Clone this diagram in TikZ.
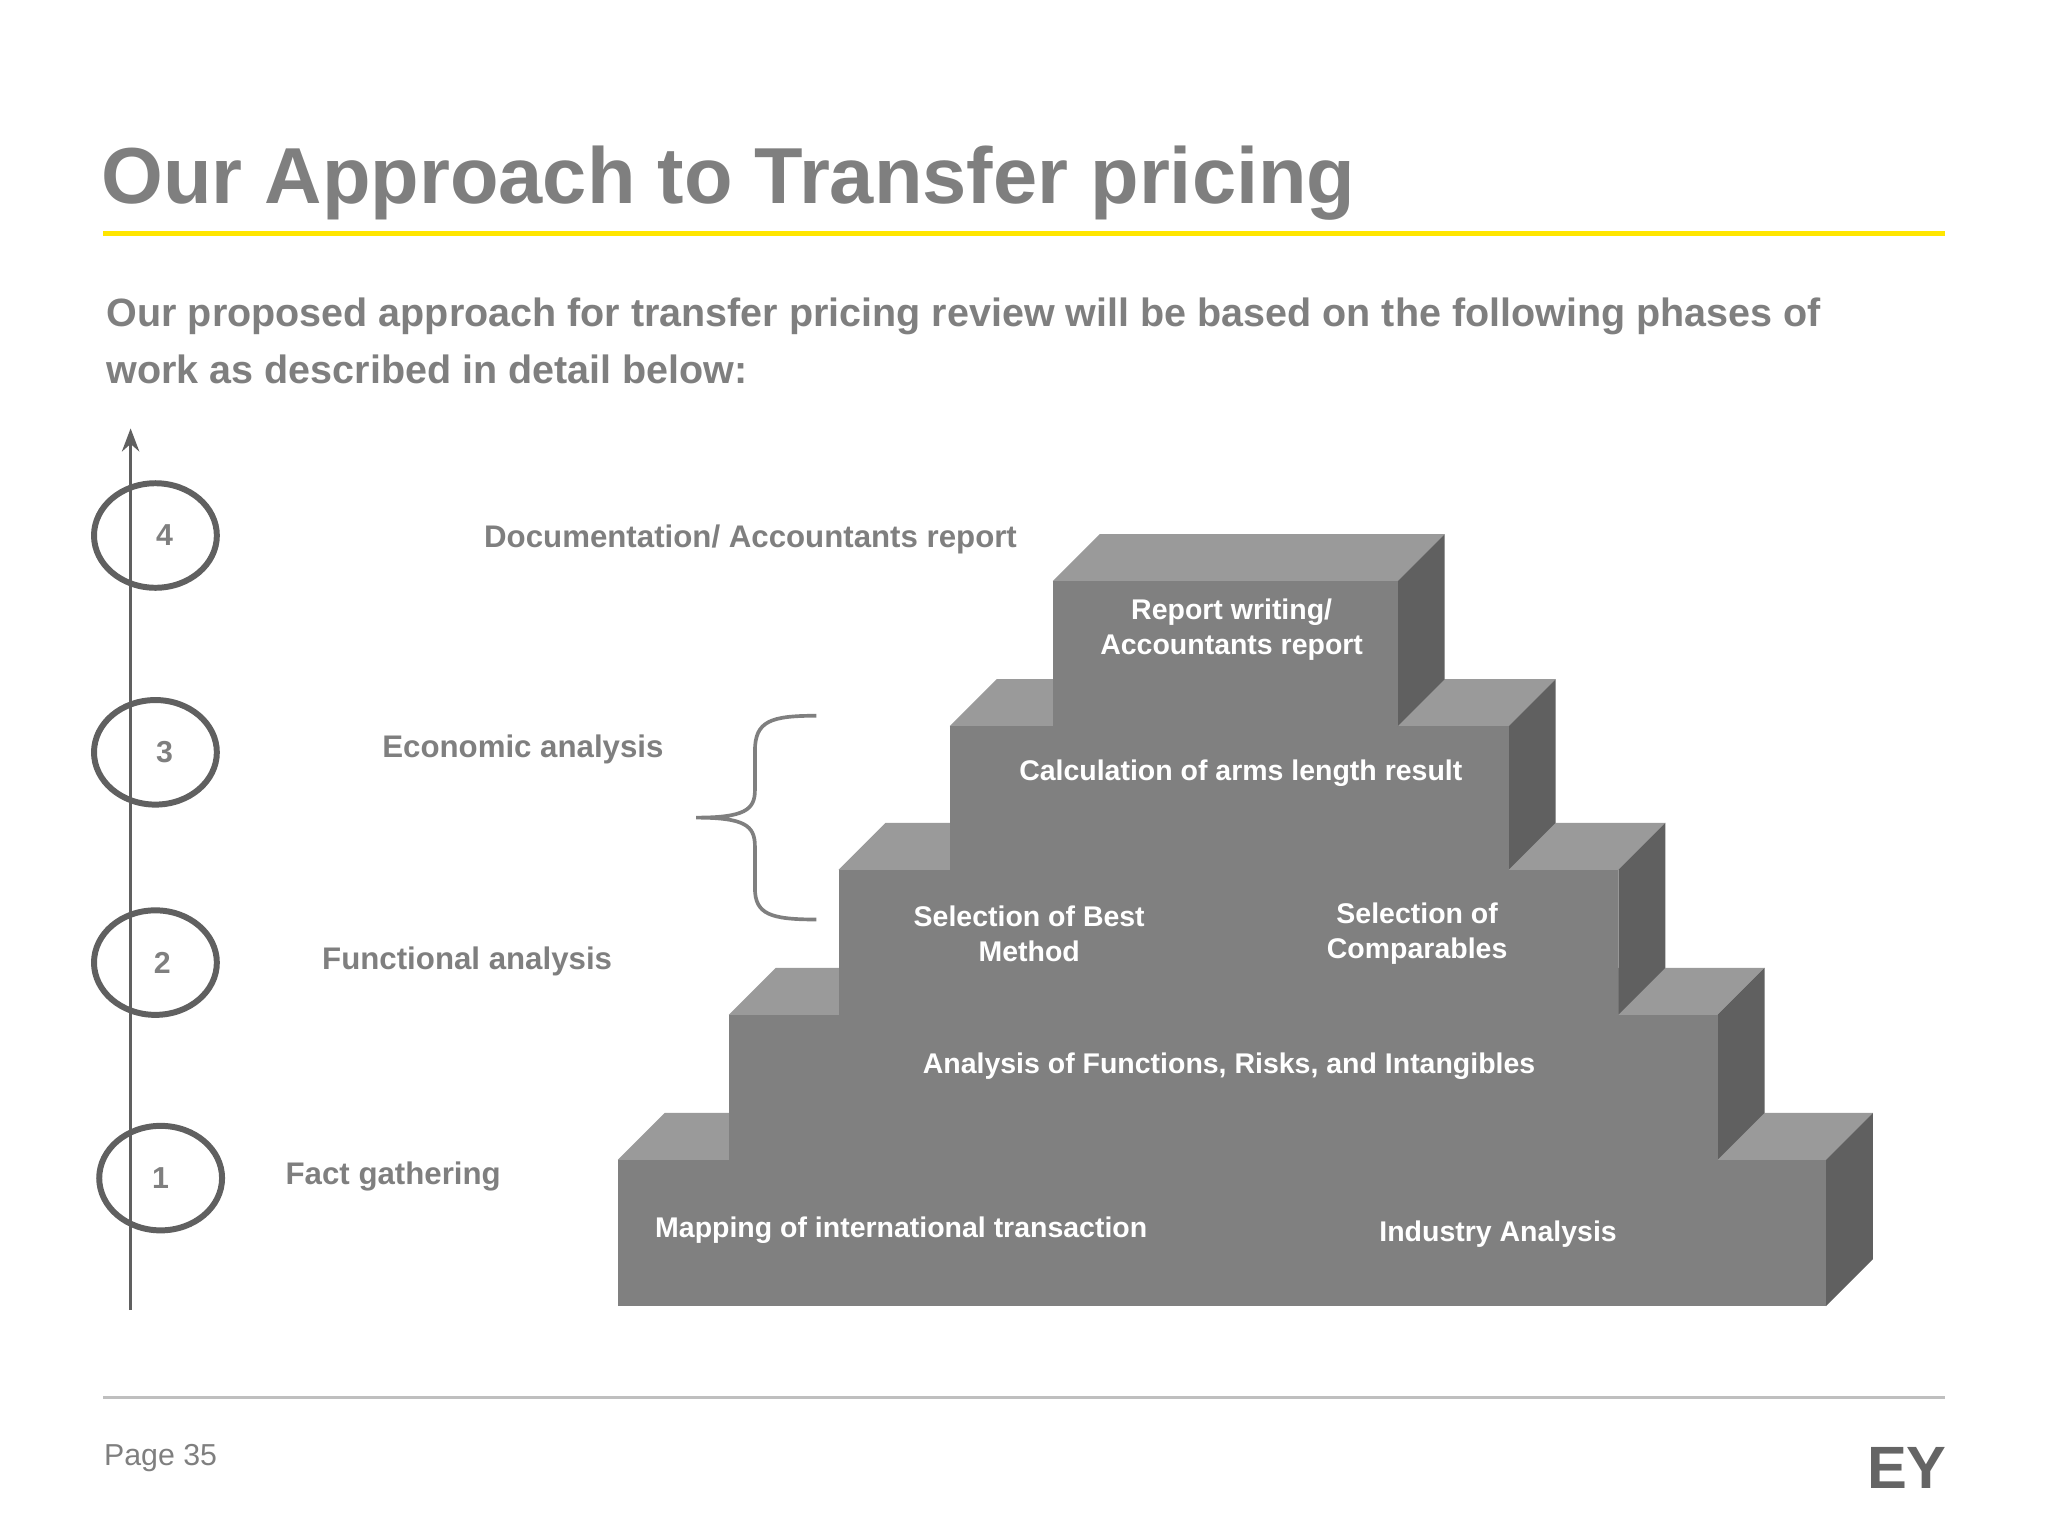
\documentclass[tikz,border=0pt]{standalone}
\usepackage{fontspec}
\setmainfont{Liberation Sans}
\definecolor{txt}{HTML}{7F7F7F}
\definecolor{fr}{HTML}{808080}
\definecolor{tp}{HTML}{9A9A9A}
\definecolor{sd}{HTML}{606060}
\definecolor{eyy}{HTML}{FFE600}
\tikzset{lab/.style={text=txt,font=\bfseries\fontsize{6.8}{8}\selectfont,anchor=west,inner sep=0pt},
 wt/.style={text=white,font=\bfseries\fontsize{6.2}{7.6}\selectfont,align=center},
 circ/.style={draw=sd,line width=1.3pt,ellipse,minimum width=0.94cm,minimum height=0.8cm,text=txt,font=\bfseries\fontsize{6.6}{8}\selectfont}}
\usetikzlibrary{shapes.geometric,arrows.meta}
\newcommand{\stepblk}[4]{% x1 x2 ytop ybot
 \fill[tp] (#1,#3) -- ++(36,-36) -- (#2+36,#3-36) -- (#2,#3) -- cycle;
 \fill[sd] (#2,#3) -- ++(36,-36) -- (#2+36,#4-36) -- (#2,#4) -- cycle;
 \fill[fr] (#1,#3) rectangle (#2,#4);}
\begin{document}
\begin{tikzpicture}[x=0.01cm,y=-0.01cm]
\useasboundingbox (0,0) rectangle (1568,1176);
\node[anchor=west,inner sep=0pt,text=txt,font=\bfseries\fontsize{17.3}{20}\selectfont] (title) at (77,140) {Our Approach to Transfer pricing};
\draw[eyy,line width=1pt] (79,179) -- (1489,179);
\node[anchor=north west,inner sep=0pt,text=txt,align=left,font=\bfseries\fontsize{8.6}{12.5}\selectfont] (sub) at (81,227) {Our proposed approach for transfer pricing review will be based on the following phases of\\work as described in detail below:};
\coordinate (a0) at (100,1003); \coordinate (a1) at (100,328);
\draw[sd,line width=0.8pt,-{Stealth[length=5pt]}] (a0) -- (a1);
\node[circ] (c4) at (119,410) {\hspace*{4pt}4};
\node[circ] (c3) at (119,576) {\hspace*{4pt}3};
\node[circ] (c2) at (119,737) {\hspace*{3pt}2};
\node[circ] (c1) at (123,902) {1};
\node[lab] (l4) at (370,413) {Documentation/ Accountants report};
\node[lab] (l3) at (292,574) {Economic analysis};
\node[lab] (l2) at (246,736) {Functional analysis};
\node[lab] (l1) at (218,901) {Fact gathering};
\stepblk{473}{1398}{888}{1000}
\stepblk{558}{1315}{777}{888}
\stepblk{642}{1239}{666}{777}
\stepblk{727}{1155}{556}{666}
\stepblk{806}{1070}{445}{556}
\node[wt] (b5) at (943,482) {Report writing/\\Accountants report};
\node[wt] (b4) at (950,592) {Calculation of arms length result};
\node[wt] (b3a) at (788,715) {Selection of Best\\Method};
\node[wt] (b3b) at (1085,715) {Selection of\\Comparables};
\node[wt] (b2) at (941,816) {Analysis of Functions, Risks, and Intangibles};
\node[wt] (b1a) at (690,942) {Mapping of international transaction};
\node[wt] (b1b) at (1147,945) {Industry Analysis};
\draw[txt,line width=0.8pt] (625,548) .. controls (590,548) and (578,552) .. (578,575) -- (578,605) .. controls (578,620) and (570,626) .. (533,626) .. controls (570,626) and (578,632) .. (578,648) -- (578,680) .. controls (578,700) and (590,704) .. (625,704);
\draw[black!25,line width=0.5pt] (79,1070) -- (1489,1070);
\node[anchor=west,inner sep=0pt,text=txt,font=\fontsize{6.6}{8}\selectfont] (pg) at (79,1116) {Page 35};
\node[text=txt!80!black,font=\bfseries\fontsize{13}{14}\selectfont] (ey) at (1460,1124) {EY};
\end{tikzpicture}
\end{document}
